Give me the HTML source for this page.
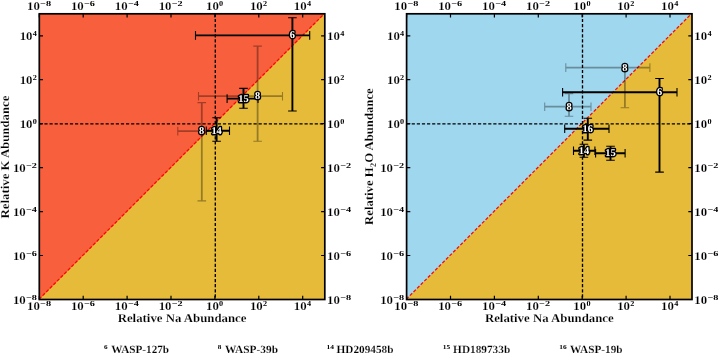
<!DOCTYPE html>
<html><head><meta charset="utf-8"><title>Relative abundances</title>
<style>
html,body{margin:0;padding:0;background:#fff;}
body{width:718px;height:353px;overflow:hidden;}
svg{display:block;text-rendering:geometricPrecision;}
text{font-family:"Liberation Serif", serif;font-weight:bold;fill:#000;}
.tk{font-size:11.6px;}
.tk,.lb,.lg{stroke:#fff;stroke-width:0.15px;paint-order:fill stroke;}
.sp{font-size:7.6px;}
.lb{font-size:12px;}
.lg{font-size:11px;}
.lsp{font-size:6.2px;}
.mk{font-size:10.4px;fill:#fff;stroke:#000;stroke-width:2.8px;paint-order:stroke fill;stroke-linejoin:round;text-anchor:middle;}
</style></head><body>
<svg width="718" height="353" viewBox="0 0 718 353">
<rect width="718" height="353" fill="#fff"/>

<g>
<rect x="39.3" y="13.8" width="285.5" height="285.7" fill="#E5BB39"/>
<polygon points="39.3,299.5 39.3,13.8 324.8,13.8" fill="#F75F3D"/>
<line x1="39.0" y1="299.2" x2="324.5" y2="13.5" stroke="#f00" stroke-width="1.25" stroke-dasharray="3.3 1.8"/>
<line x1="215.3" y1="13.8" x2="215.3" y2="299.5" stroke="#000" stroke-width="1.35" stroke-dasharray="3.2 1.9"/>
<line x1="39.3" y1="123.8" x2="324.8" y2="123.8" stroke="#000" stroke-width="1.35" stroke-dasharray="3.2 1.9"/>
</g>
<g>
<rect x="406.6" y="13.8" width="285.4" height="285.7" fill="#E5BB39"/>
<polygon points="406.6,299.5 406.6,13.8 692.0,13.8" fill="#9FD7EE"/>
<line x1="406.3" y1="299.2" x2="691.7" y2="13.5" stroke="#f00" stroke-width="1.25" stroke-dasharray="3.3 1.8"/>
<line x1="582.5" y1="13.8" x2="582.5" y2="299.5" stroke="#000" stroke-width="1.35" stroke-dasharray="3.2 1.9"/>
<line x1="406.6" y1="123.8" x2="692.0" y2="123.8" stroke="#000" stroke-width="1.35" stroke-dasharray="3.2 1.9"/>
</g>
<g>
<g stroke="#000" opacity="0.34" fill="none"><path d="M177.8 131.1H216M201.8 102.6V200.9" stroke-width="1.8"/><path d="M177.8 126.8v8.6M216 126.8v8.6M197.5 102.6h8.6M197.5 200.9h8.6" stroke-width="1.1"/></g>
<g stroke="#000" opacity="0.34" fill="none"><path d="M198.5 96.2H282.5M257.6 46.1V141.2" stroke-width="1.8"/><path d="M198.5 91.9v8.6M282.5 91.9v8.6M253.3 46.1h8.6M253.3 141.2h8.6" stroke-width="1.1"/></g>
<g stroke="#000" opacity="1.0" fill="none"><path d="M195.5 35.4H309.7M292.4 17.7V111.0" stroke-width="1.9"/><path d="M195.5 31.099999999999998v8.6M309.7 31.099999999999998v8.6M288.09999999999997 17.7h8.6M288.09999999999997 111.0h8.6" stroke-width="1.1"/></g>
<g stroke="#000" opacity="1.0" fill="none"><path d="M206.3 130.7H229.5M216.6 117.8V141.2" stroke-width="1.9"/><path d="M206.3 126.39999999999999v8.6M229.5 126.39999999999999v8.6M212.29999999999998 117.8h8.6M212.29999999999998 141.2h8.6" stroke-width="1.1"/></g>
<g stroke="#000" opacity="1.0" fill="none"><path d="M227.1 98.6H258M243.5 88.4V108.2" stroke-width="1.9"/><path d="M227.1 94.3v8.6M258 94.3v8.6M239.2 88.4h8.6M239.2 108.2h8.6" stroke-width="1.1"/></g>
<text class="mk" x="201.6" y="134.1">8</text>
<text class="mk" x="257.6" y="99.2">8</text>
<text class="mk" x="292.4" y="38.4">6</text>
<text class="mk" x="216.6" y="133.7">14</text>
<text class="mk" x="243.5" y="101.6">15</text>
</g>
<g>
<g stroke="#000" opacity="0.34" fill="none"><path d="M544.7 106.7H591.0M569.0 93.6V116.3" stroke-width="1.8"/><path d="M544.7 102.4v8.6M591.0 102.4v8.6M564.7 93.6h8.6M564.7 116.3h8.6" stroke-width="1.1"/></g>
<g stroke="#000" opacity="0.34" fill="none"><path d="M565.8 67.6H649.9M624.9 67.6V107.8" stroke-width="1.8"/><path d="M565.8 63.3v8.6M649.9 63.3v8.6M620.6 107.8h8.6" stroke-width="1.1"/></g>
<g stroke="#000" opacity="1.0" fill="none"><path d="M562.6 92.3H677.0M659.5 78.5V172.1" stroke-width="1.9"/><path d="M562.6 88.0v8.6M677.0 88.0v8.6M655.2 78.5h8.6M655.2 172.1h8.6" stroke-width="1.1"/></g>
<g stroke="#000" opacity="1.0" fill="none"><path d="M564.7 128.8H609.0M587.8 118.2V140.1" stroke-width="1.9"/><path d="M564.7 124.50000000000001v8.6M609.0 124.50000000000001v8.6M583.5 118.2h8.6M583.5 140.1h8.6" stroke-width="1.1"/></g>
<g stroke="#000" opacity="1.0" fill="none"><path d="M573.5 150.8H594.9M583.9 144.2V157.2" stroke-width="1.9"/><path d="M573.5 146.5v8.6M594.9 146.5v8.6M579.6 144.2h8.6M579.6 157.2h8.6" stroke-width="1.1"/></g>
<g stroke="#000" opacity="1.0" fill="none"><path d="M595.6 153.3H625.1M610.5 146.2V160.2" stroke-width="1.9"/><path d="M595.6 149.0v8.6M625.1 149.0v8.6M606.2 146.2h8.6M606.2 160.2h8.6" stroke-width="1.1"/></g>
<text class="mk" x="569.0" y="109.7">8</text>
<text class="mk" x="624.9" y="70.6">8</text>
<text class="mk" x="659.5" y="95.3">6</text>
<text class="mk" x="587.8" y="131.8">16</text>
<text class="mk" x="583.9" y="153.8">14</text>
<text class="mk" x="610.5" y="156.3">15</text>
</g>
<g>
<path d="M39.3 13.8v3.7M39.3 299.5v-3.7M39.3 299.5h3.7M324.8 299.5h-3.7" stroke="#000" stroke-width="1.2" fill="none"/>
<path d="M83.2 13.8v3.7M83.2 299.5v-3.7M39.3 255.5h3.7M324.8 255.5h-3.7" stroke="#000" stroke-width="1.2" fill="none"/>
<path d="M127.1 13.8v3.7M127.1 299.5v-3.7M39.3 211.6h3.7M324.8 211.6h-3.7" stroke="#000" stroke-width="1.2" fill="none"/>
<path d="M171.0 13.8v3.7M171.0 299.5v-3.7M39.3 167.6h3.7M324.8 167.6h-3.7" stroke="#000" stroke-width="1.2" fill="none"/>
<path d="M214.9 13.8v3.7M214.9 299.5v-3.7M39.3 123.7h3.7M324.8 123.7h-3.7" stroke="#000" stroke-width="1.2" fill="none"/>
<path d="M258.8 13.8v3.7M258.8 299.5v-3.7M39.3 79.7h3.7M324.8 79.7h-3.7" stroke="#000" stroke-width="1.2" fill="none"/>
<path d="M302.7 13.8v3.7M302.7 299.5v-3.7M39.3 35.8h3.7M324.8 35.8h-3.7" stroke="#000" stroke-width="1.2" fill="none"/>
<rect x="39.3" y="13.8" width="285.5" height="285.7" fill="none" stroke="#000" stroke-width="1.7"/>
<text class="tk" x="27.0" y="10.0" textLength="12.8" lengthAdjust="spacingAndGlyphs">10</text>
<text class="sp" x="40.1" y="6.0" textLength="10.9" lengthAdjust="spacingAndGlyphs">−8</text>
<text class="tk" x="27.0" y="310.0" textLength="12.8" lengthAdjust="spacingAndGlyphs">10</text>
<text class="sp" x="40.1" y="306.0" textLength="10.9" lengthAdjust="spacingAndGlyphs">−8</text>
<text class="tk" x="12.9" y="304.0" textLength="12.8" lengthAdjust="spacingAndGlyphs">10</text>
<text class="sp" x="26.0" y="300.0" textLength="10.9" lengthAdjust="spacingAndGlyphs">−8</text>
<text class="tk" x="327.1" y="304.0" textLength="12.8" lengthAdjust="spacingAndGlyphs">10</text>
<text class="sp" x="340.2" y="300.0" textLength="10.9" lengthAdjust="spacingAndGlyphs">−8</text>
<text class="tk" x="70.9" y="10.0" textLength="12.8" lengthAdjust="spacingAndGlyphs">10</text>
<text class="sp" x="84.0" y="6.0" textLength="10.9" lengthAdjust="spacingAndGlyphs">−6</text>
<text class="tk" x="70.9" y="310.0" textLength="12.8" lengthAdjust="spacingAndGlyphs">10</text>
<text class="sp" x="84.0" y="306.0" textLength="10.9" lengthAdjust="spacingAndGlyphs">−6</text>
<text class="tk" x="12.9" y="260.0" textLength="12.8" lengthAdjust="spacingAndGlyphs">10</text>
<text class="sp" x="26.0" y="256.0" textLength="10.9" lengthAdjust="spacingAndGlyphs">−6</text>
<text class="tk" x="327.1" y="260.0" textLength="12.8" lengthAdjust="spacingAndGlyphs">10</text>
<text class="sp" x="340.2" y="256.0" textLength="10.9" lengthAdjust="spacingAndGlyphs">−6</text>
<text class="tk" x="114.8" y="10.0" textLength="12.8" lengthAdjust="spacingAndGlyphs">10</text>
<text class="sp" x="127.9" y="6.0" textLength="10.9" lengthAdjust="spacingAndGlyphs">−4</text>
<text class="tk" x="114.8" y="310.0" textLength="12.8" lengthAdjust="spacingAndGlyphs">10</text>
<text class="sp" x="127.9" y="306.0" textLength="10.9" lengthAdjust="spacingAndGlyphs">−4</text>
<text class="tk" x="12.9" y="216.0" textLength="12.8" lengthAdjust="spacingAndGlyphs">10</text>
<text class="sp" x="26.0" y="212.0" textLength="10.9" lengthAdjust="spacingAndGlyphs">−4</text>
<text class="tk" x="327.1" y="216.0" textLength="12.8" lengthAdjust="spacingAndGlyphs">10</text>
<text class="sp" x="340.2" y="212.0" textLength="10.9" lengthAdjust="spacingAndGlyphs">−4</text>
<text class="tk" x="158.7" y="10.0" textLength="12.8" lengthAdjust="spacingAndGlyphs">10</text>
<text class="sp" x="171.8" y="6.0" textLength="10.9" lengthAdjust="spacingAndGlyphs">−2</text>
<text class="tk" x="158.7" y="310.0" textLength="12.8" lengthAdjust="spacingAndGlyphs">10</text>
<text class="sp" x="171.8" y="306.0" textLength="10.9" lengthAdjust="spacingAndGlyphs">−2</text>
<text class="tk" x="12.9" y="172.0" textLength="12.8" lengthAdjust="spacingAndGlyphs">10</text>
<text class="sp" x="26.0" y="168.0" textLength="10.9" lengthAdjust="spacingAndGlyphs">−2</text>
<text class="tk" x="327.1" y="172.0" textLength="12.8" lengthAdjust="spacingAndGlyphs">10</text>
<text class="sp" x="340.2" y="168.0" textLength="10.9" lengthAdjust="spacingAndGlyphs">−2</text>
<text class="tk" x="206.0" y="10.0" textLength="12.8" lengthAdjust="spacingAndGlyphs">10</text>
<text class="sp" x="219.1" y="6.0" textLength="4.1" lengthAdjust="spacingAndGlyphs">0</text>
<text class="tk" x="206.0" y="310.0" textLength="12.8" lengthAdjust="spacingAndGlyphs">10</text>
<text class="sp" x="219.1" y="306.0" textLength="4.1" lengthAdjust="spacingAndGlyphs">0</text>
<text class="tk" x="19.7" y="128.0" textLength="12.8" lengthAdjust="spacingAndGlyphs">10</text>
<text class="sp" x="32.8" y="124.0" textLength="4.1" lengthAdjust="spacingAndGlyphs">0</text>
<text class="tk" x="327.1" y="128.0" textLength="12.8" lengthAdjust="spacingAndGlyphs">10</text>
<text class="sp" x="340.2" y="124.0" textLength="4.1" lengthAdjust="spacingAndGlyphs">0</text>
<text class="tk" x="249.9" y="10.0" textLength="12.8" lengthAdjust="spacingAndGlyphs">10</text>
<text class="sp" x="263.0" y="6.0" textLength="4.1" lengthAdjust="spacingAndGlyphs">2</text>
<text class="tk" x="249.9" y="310.0" textLength="12.8" lengthAdjust="spacingAndGlyphs">10</text>
<text class="sp" x="263.0" y="306.0" textLength="4.1" lengthAdjust="spacingAndGlyphs">2</text>
<text class="tk" x="19.7" y="84.0" textLength="12.8" lengthAdjust="spacingAndGlyphs">10</text>
<text class="sp" x="32.8" y="80.0" textLength="4.1" lengthAdjust="spacingAndGlyphs">2</text>
<text class="tk" x="327.1" y="84.0" textLength="12.8" lengthAdjust="spacingAndGlyphs">10</text>
<text class="sp" x="340.2" y="80.0" textLength="4.1" lengthAdjust="spacingAndGlyphs">2</text>
<text class="tk" x="293.8" y="10.0" textLength="12.8" lengthAdjust="spacingAndGlyphs">10</text>
<text class="sp" x="306.9" y="6.0" textLength="4.1" lengthAdjust="spacingAndGlyphs">4</text>
<text class="tk" x="293.8" y="310.0" textLength="12.8" lengthAdjust="spacingAndGlyphs">10</text>
<text class="sp" x="306.9" y="306.0" textLength="4.1" lengthAdjust="spacingAndGlyphs">4</text>
<text class="tk" x="19.7" y="40.0" textLength="12.8" lengthAdjust="spacingAndGlyphs">10</text>
<text class="sp" x="32.8" y="36.0" textLength="4.1" lengthAdjust="spacingAndGlyphs">4</text>
<text class="tk" x="327.1" y="40.0" textLength="12.8" lengthAdjust="spacingAndGlyphs">10</text>
<text class="sp" x="340.2" y="36.0" textLength="4.1" lengthAdjust="spacingAndGlyphs">4</text>
<text class="lb" x="117.7" y="322" textLength="128.8" lengthAdjust="spacingAndGlyphs">Relative Na Abundance</text>
</g>
<g>
<path d="M406.6 13.8v3.7M406.6 299.5v-3.7M406.6 299.5h3.7M692.0 299.5h-3.7" stroke="#000" stroke-width="1.2" fill="none"/>
<path d="M450.5 13.8v3.7M450.5 299.5v-3.7M406.6 255.5h3.7M692.0 255.5h-3.7" stroke="#000" stroke-width="1.2" fill="none"/>
<path d="M494.4 13.8v3.7M494.4 299.5v-3.7M406.6 211.6h3.7M692.0 211.6h-3.7" stroke="#000" stroke-width="1.2" fill="none"/>
<path d="M538.3 13.8v3.7M538.3 299.5v-3.7M406.6 167.6h3.7M692.0 167.6h-3.7" stroke="#000" stroke-width="1.2" fill="none"/>
<path d="M582.2 13.8v3.7M582.2 299.5v-3.7M406.6 123.7h3.7M692.0 123.7h-3.7" stroke="#000" stroke-width="1.2" fill="none"/>
<path d="M626.1 13.8v3.7M626.1 299.5v-3.7M406.6 79.7h3.7M692.0 79.7h-3.7" stroke="#000" stroke-width="1.2" fill="none"/>
<path d="M670.0 13.8v3.7M670.0 299.5v-3.7M406.6 35.8h3.7M692.0 35.8h-3.7" stroke="#000" stroke-width="1.2" fill="none"/>
<rect x="406.6" y="13.8" width="285.4" height="285.7" fill="none" stroke="#000" stroke-width="1.7"/>
<text class="tk" x="394.3" y="10.0" textLength="12.8" lengthAdjust="spacingAndGlyphs">10</text>
<text class="sp" x="407.4" y="6.0" textLength="10.9" lengthAdjust="spacingAndGlyphs">−8</text>
<text class="tk" x="394.3" y="310.0" textLength="12.8" lengthAdjust="spacingAndGlyphs">10</text>
<text class="sp" x="407.4" y="306.0" textLength="10.9" lengthAdjust="spacingAndGlyphs">−8</text>
<text class="tk" x="380.2" y="304.0" textLength="12.8" lengthAdjust="spacingAndGlyphs">10</text>
<text class="sp" x="393.3" y="300.0" textLength="10.9" lengthAdjust="spacingAndGlyphs">−8</text>
<text class="tk" x="694.3" y="304.0" textLength="12.8" lengthAdjust="spacingAndGlyphs">10</text>
<text class="sp" x="707.4" y="300.0" textLength="10.9" lengthAdjust="spacingAndGlyphs">−8</text>
<text class="tk" x="438.2" y="10.0" textLength="12.8" lengthAdjust="spacingAndGlyphs">10</text>
<text class="sp" x="451.3" y="6.0" textLength="10.9" lengthAdjust="spacingAndGlyphs">−6</text>
<text class="tk" x="438.2" y="310.0" textLength="12.8" lengthAdjust="spacingAndGlyphs">10</text>
<text class="sp" x="451.3" y="306.0" textLength="10.9" lengthAdjust="spacingAndGlyphs">−6</text>
<text class="tk" x="380.2" y="260.0" textLength="12.8" lengthAdjust="spacingAndGlyphs">10</text>
<text class="sp" x="393.3" y="256.0" textLength="10.9" lengthAdjust="spacingAndGlyphs">−6</text>
<text class="tk" x="694.3" y="260.0" textLength="12.8" lengthAdjust="spacingAndGlyphs">10</text>
<text class="sp" x="707.4" y="256.0" textLength="10.9" lengthAdjust="spacingAndGlyphs">−6</text>
<text class="tk" x="482.1" y="10.0" textLength="12.8" lengthAdjust="spacingAndGlyphs">10</text>
<text class="sp" x="495.2" y="6.0" textLength="10.9" lengthAdjust="spacingAndGlyphs">−4</text>
<text class="tk" x="482.1" y="310.0" textLength="12.8" lengthAdjust="spacingAndGlyphs">10</text>
<text class="sp" x="495.2" y="306.0" textLength="10.9" lengthAdjust="spacingAndGlyphs">−4</text>
<text class="tk" x="380.2" y="216.0" textLength="12.8" lengthAdjust="spacingAndGlyphs">10</text>
<text class="sp" x="393.3" y="212.0" textLength="10.9" lengthAdjust="spacingAndGlyphs">−4</text>
<text class="tk" x="694.3" y="216.0" textLength="12.8" lengthAdjust="spacingAndGlyphs">10</text>
<text class="sp" x="707.4" y="212.0" textLength="10.9" lengthAdjust="spacingAndGlyphs">−4</text>
<text class="tk" x="526.0" y="10.0" textLength="12.8" lengthAdjust="spacingAndGlyphs">10</text>
<text class="sp" x="539.1" y="6.0" textLength="10.9" lengthAdjust="spacingAndGlyphs">−2</text>
<text class="tk" x="526.0" y="310.0" textLength="12.8" lengthAdjust="spacingAndGlyphs">10</text>
<text class="sp" x="539.1" y="306.0" textLength="10.9" lengthAdjust="spacingAndGlyphs">−2</text>
<text class="tk" x="380.2" y="172.0" textLength="12.8" lengthAdjust="spacingAndGlyphs">10</text>
<text class="sp" x="393.3" y="168.0" textLength="10.9" lengthAdjust="spacingAndGlyphs">−2</text>
<text class="tk" x="694.3" y="172.0" textLength="12.8" lengthAdjust="spacingAndGlyphs">10</text>
<text class="sp" x="707.4" y="168.0" textLength="10.9" lengthAdjust="spacingAndGlyphs">−2</text>
<text class="tk" x="573.3" y="10.0" textLength="12.8" lengthAdjust="spacingAndGlyphs">10</text>
<text class="sp" x="586.4" y="6.0" textLength="4.1" lengthAdjust="spacingAndGlyphs">0</text>
<text class="tk" x="573.3" y="310.0" textLength="12.8" lengthAdjust="spacingAndGlyphs">10</text>
<text class="sp" x="586.4" y="306.0" textLength="4.1" lengthAdjust="spacingAndGlyphs">0</text>
<text class="tk" x="387.0" y="128.0" textLength="12.8" lengthAdjust="spacingAndGlyphs">10</text>
<text class="sp" x="400.1" y="124.0" textLength="4.1" lengthAdjust="spacingAndGlyphs">0</text>
<text class="tk" x="694.3" y="128.0" textLength="12.8" lengthAdjust="spacingAndGlyphs">10</text>
<text class="sp" x="707.4" y="124.0" textLength="4.1" lengthAdjust="spacingAndGlyphs">0</text>
<text class="tk" x="617.2" y="10.0" textLength="12.8" lengthAdjust="spacingAndGlyphs">10</text>
<text class="sp" x="630.3" y="6.0" textLength="4.1" lengthAdjust="spacingAndGlyphs">2</text>
<text class="tk" x="617.2" y="310.0" textLength="12.8" lengthAdjust="spacingAndGlyphs">10</text>
<text class="sp" x="630.3" y="306.0" textLength="4.1" lengthAdjust="spacingAndGlyphs">2</text>
<text class="tk" x="387.0" y="84.0" textLength="12.8" lengthAdjust="spacingAndGlyphs">10</text>
<text class="sp" x="400.1" y="80.0" textLength="4.1" lengthAdjust="spacingAndGlyphs">2</text>
<text class="tk" x="694.3" y="84.0" textLength="12.8" lengthAdjust="spacingAndGlyphs">10</text>
<text class="sp" x="707.4" y="80.0" textLength="4.1" lengthAdjust="spacingAndGlyphs">2</text>
<text class="tk" x="661.1" y="10.0" textLength="12.8" lengthAdjust="spacingAndGlyphs">10</text>
<text class="sp" x="674.2" y="6.0" textLength="4.1" lengthAdjust="spacingAndGlyphs">4</text>
<text class="tk" x="661.1" y="310.0" textLength="12.8" lengthAdjust="spacingAndGlyphs">10</text>
<text class="sp" x="674.2" y="306.0" textLength="4.1" lengthAdjust="spacingAndGlyphs">4</text>
<text class="tk" x="387.0" y="40.0" textLength="12.8" lengthAdjust="spacingAndGlyphs">10</text>
<text class="sp" x="400.1" y="36.0" textLength="4.1" lengthAdjust="spacingAndGlyphs">4</text>
<text class="tk" x="694.3" y="40.0" textLength="12.8" lengthAdjust="spacingAndGlyphs">10</text>
<text class="sp" x="707.4" y="36.0" textLength="4.1" lengthAdjust="spacingAndGlyphs">4</text>
<text class="lb" x="484.9" y="322" textLength="128.8" lengthAdjust="spacingAndGlyphs">Relative Na Abundance</text>
</g>
<text class="lb" transform="translate(8.5 218.4) rotate(-90)" textLength="122.8" lengthAdjust="spacingAndGlyphs">Relative K Abundance</text>
<text class="lb" transform="translate(373.3 224.9) rotate(-90)" textLength="136.6" lengthAdjust="spacingAndGlyphs">Relative H<tspan font-size="8.5" dy="2.2">2</tspan><tspan dy="-2.2">O Abundance</tspan></text>
<text class="lsp" x="103.9" y="348.6" textLength="3.6" lengthAdjust="spacingAndGlyphs">6</text><text class="lg" x="111.2" y="352.9" textLength="57.9" lengthAdjust="spacingAndGlyphs">WASP-127b</text>
<text class="lsp" x="217.8" y="348.6" textLength="3.6" lengthAdjust="spacingAndGlyphs">8</text><text class="lg" x="225.0" y="352.9" textLength="53.0" lengthAdjust="spacingAndGlyphs">WASP-39b</text>
<text class="lsp" x="326.6" y="348.6" textLength="7.4" lengthAdjust="spacingAndGlyphs">14</text><text class="lg" x="336.6" y="352.9" textLength="56.9" lengthAdjust="spacingAndGlyphs">HD209458b</text>
<text class="lsp" x="442.7" y="348.6" textLength="7.4" lengthAdjust="spacingAndGlyphs">15</text><text class="lg" x="453.1" y="352.9" textLength="57.1" lengthAdjust="spacingAndGlyphs">HD189733b</text>
<text class="lsp" x="559.2" y="348.6" textLength="7.4" lengthAdjust="spacingAndGlyphs">16</text><text class="lg" x="570.1" y="352.9" textLength="52.4" lengthAdjust="spacingAndGlyphs">WASP-19b</text>
</svg></body></html>
